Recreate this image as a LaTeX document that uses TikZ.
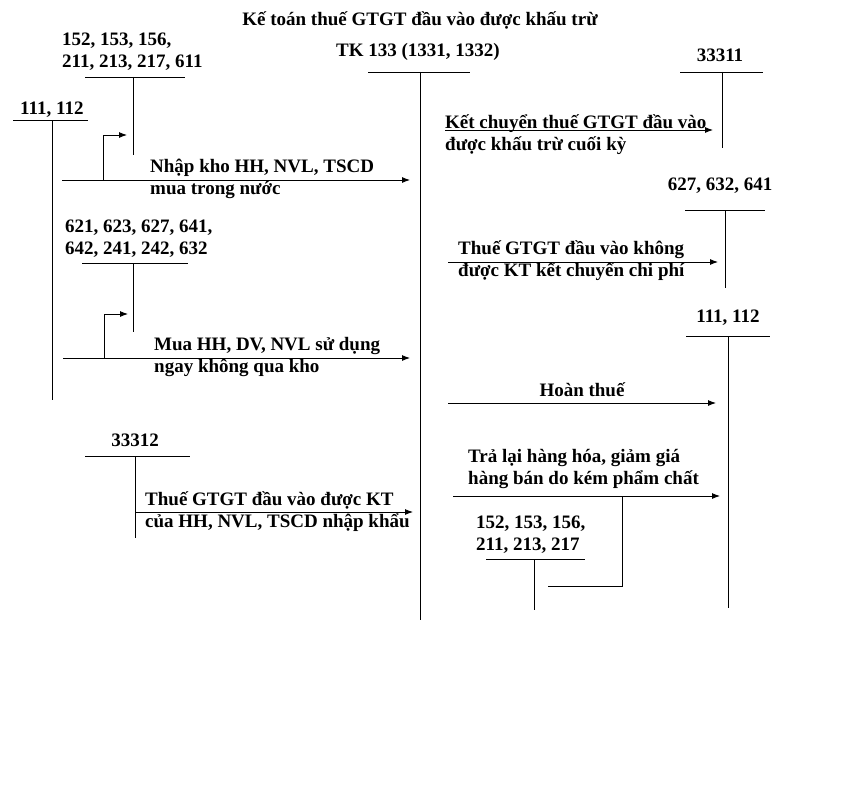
\documentclass[tikz,border=0pt]{standalone}
\usepackage{fontspec}
\setmainfont{Liberation Serif}
\usetikzlibrary{arrows.meta}
\tikzset{
  lbl/.style={font=\bfseries\fontsize{19}{22}\selectfont, inner sep=0pt, align=left},
  acc/.style={line width=0.9pt},
  flow/.style={line width=0.9pt, -{Latex[length=8pt,width=6pt]}}
}
\begin{document}
\begin{tikzpicture}[x=1pt,y=-1pt]
		\useasboundingbox[fill=white] (0,0) rectangle (841,808);
		% title and main account
		\node[lbl] (title) at (420,20) {Kế toán thuế GTGT đầu vào được khấu trừ};
		\node[lbl] (tk133) at (418,52) {TK 133 (1331, 1332)};
		\draw[acc] (368,72) -- (470,72);
		\draw[acc] (420,72) -- (420,620);
		% left side accounts
		\node[lbl,anchor=west] (a152) at (62,52) {152, 153, 156,\\211, 213, 217, 611};
		\draw[acc] (85,77) -- (185,77);
		\draw[acc] (133,77) -- (133,155);
		\node[lbl,anchor=west] (a111) at (20,110) {111, 112};
		\draw[acc] (13,120) -- (88,120);
		\draw[acc] (52,120) -- (52,400);
		\node[lbl,anchor=west] (a621) at (65,239) {621, 623, 627, 641,\\642, 241, 242, 632};
		\draw[acc] (82,263) -- (188,263);
		\draw[acc] (133,263) -- (133,332);
		\node[lbl] (a33312) at (135,440) {33312};
		\draw[acc] (85,456) -- (190,456);
		\draw[acc] (135,456) -- (135,538);
		% left side flows
		\coordinate (f1s) at (62,180);
		\coordinate (f1e) at (410,180);
		\coordinate (b1) at (103,180);
		\coordinate (b1e) at (127,135);
		\draw[flow] (f1s) -- (f1e);
		\draw[flow] (b1) |- (b1e);
		\node[lbl,anchor=west] (t1) at (150,179) {Nhập kho HH, NVL, TSCD\\mua trong nước};
		\coordinate (f2s) at (63,358);
		\coordinate (f2e) at (410,358);
		\coordinate (b2) at (104,358);
		\coordinate (b2e) at (128,314);
		\draw[flow] (f2s) -- (f2e);
		\draw[flow] (b2) |- (b2e);
		\node[lbl,anchor=west] (t2) at (154,357) {Mua HH, DV, NVL sử dụng\\ngay không qua kho};
		\coordinate (f3s) at (135,512);
		\coordinate (f3e) at (413,512);
		\draw[flow] (f3s) -- (f3e);
		\node[lbl,anchor=west] (t3) at (145,512) {Thuế GTGT đầu vào được KT\\của HH, NVL, TSCD nhập khẩu};
		% right side accounts
		\node[lbl] (a33311) at (720,55) {33311};
		\draw[acc] (680,72) -- (763,72);
		\draw[acc] (722,72) -- (722,148);
		\node[lbl] (a627) at (720,186) {627, 632, 641};
		\draw[acc] (685,210) -- (765,210);
		\draw[acc] (725,210) -- (725,288);
		\node[lbl] (a111r) at (728,318) {111, 112};
		\draw[acc] (686,336) -- (770,336);
		\draw[acc] (728,336) -- (728,608);
		\node[lbl,anchor=west] (a152r) at (476,535) {152, 153, 156,\\211, 213, 217};
		\draw[acc] (486,559) -- (585,559);
		\draw[acc] (534,559) -- (534,610);
		% right side flows
		\coordinate (r1s) at (445,130);
		\coordinate (r1e) at (713,130);
		\draw[flow] (r1s) -- (r1e);
		\node[lbl,anchor=west] (t4) at (445,135) {Kết chuyển thuế GTGT đầu vào\\được khấu trừ cuối kỳ};
		\coordinate (r2s) at (448,262);
		\coordinate (r2e) at (718,262);
		\draw[flow] (r2s) -- (r2e);
		\node[lbl,anchor=west] (t5) at (458,261) {Thuế GTGT đầu vào không\\được KT kết chuyển chi phí};
		\coordinate (r3s) at (448,403);
		\coordinate (r3e) at (716,403);
		\draw[flow] (r3s) -- (r3e);
		\node[lbl] (t6) at (582,390) {Hoàn thuế};
		\coordinate (r4s) at (453,496);
		\coordinate (r4e) at (720,496);
		\draw[flow] (r4s) -- (r4e);
		\node[lbl,anchor=west] (t7) at (468,469) {Trả lại hàng hóa, giảm giá\\hàng bán do kém phẩm chất};
		\coordinate (r5a) at (622,496);
		\coordinate (r5b) at (548,586);
		\draw[acc] (r5a) |- (r5b);
\end{tikzpicture}
\end{document}
